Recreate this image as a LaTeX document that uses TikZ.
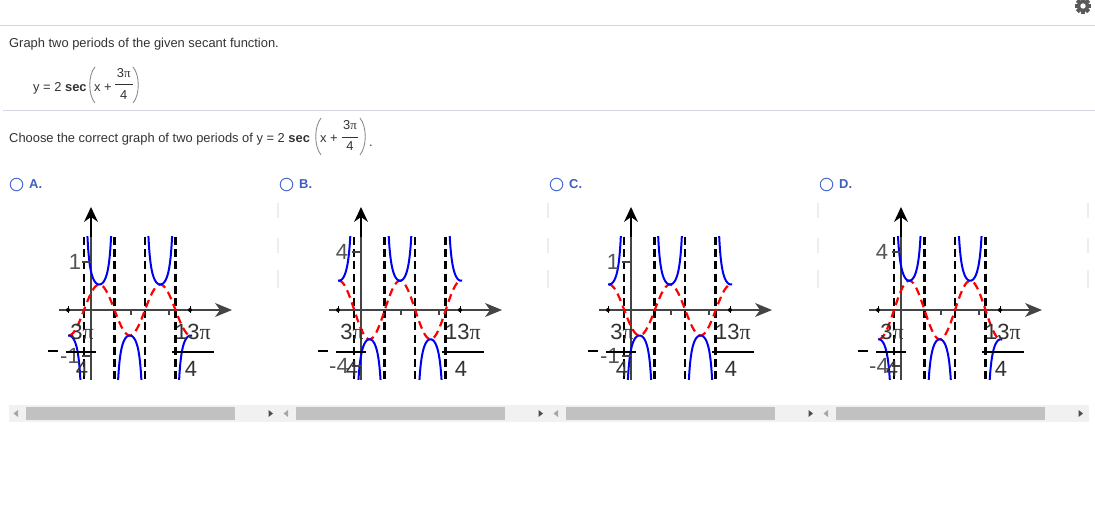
\documentclass[tikz,border=0pt]{standalone}
\usepackage{fontspec}
\setmainfont{Liberation Sans}
\newfontfamily\serifpi{Liberation Serif}
\definecolor{ruleline}{HTML}{D3D6E0}
\definecolor{axisgray}{HTML}{444444}
\definecolor{labelgray}{HTML}{555555}
\definecolor{fracdark}{HTML}{333333}
\definecolor{radioblue}{HTML}{4A6CD4}
\definecolor{optblue}{HTML}{3F5FBF}
\definecolor{curveblue}{HTML}{0000F0}
\definecolor{track}{HTML}{F1F1F1}
\definecolor{thumb}{HTML}{C1C1C1}
\definecolor{faint}{HTML}{EDEDED}
\definecolor{gear}{HTML}{5A5A5A}
\definecolor{txt}{HTML}{333333}
\tikzset{
  x=1pt,y=-1pt,
  body/.style={font=\fontsize{12.9}{15}\selectfont,text=txt,inner sep=0pt,anchor=base west},
  mid/.style={font=\fontsize{12.9}{15}\selectfont,text=txt,inner sep=0pt,anchor=base},
  numlabel/.style={font=\fontsize{22}{24}\selectfont,text=labelgray,inner sep=0pt},
  fraclabel/.style={font=\fontsize{22}{24}\selectfont,text=fracdark,inner sep=0pt},
  asym/.style={black,line width=2.7pt,dash pattern=on 8pt off 4.2pt},
  axisline/.style={axisgray,line width=2pt},
  redcurve/.style={red,line width=2.2pt,dash pattern=on 8pt off 5pt,smooth},
  bluecurve/.style={curveblue,line width=2pt,smooth},
  paren/.style={draw=gray!90,line width=0.9pt},
  optlabel/.style={font=\fontsize{12.9}{15}\selectfont\bfseries,text=optblue,inner sep=0pt,anchor=west},
}
\newcommand{\pipi}{{\serifpi π}}
% #1 axis x, #2 peak x (relative), #3 amplitude
\newcommand{\trigpanel}[3]{%
\begin{scope}[xshift=#1pt]
  \foreach \ax in {-7,23.5,54,84.5} \draw[asym] (\ax,237) -- (\ax,380);
  \draw[black,line width=2pt] (0,215) -- (0,237);
  \fill[black] (0,207) -- (7,222) -- (0,217) -- (-7,222) -- cycle;
  \draw[axisline] (0,237) -- (0,380);
  \draw[axisline] (-32,310) -- (130,310);
  \fill[axisgray] (141,310) -- (124,303) -- (129,310) -- (124,317) -- cycle;
  \foreach \dt in {-23,99} {\fill[black] (\dt,310) circle (2pt); \draw[black,line width=1pt] (\dt,306.5) -- (\dt,313.5);}
  \foreach \tk in {40,78} \draw[axisgray,line width=1.2pt] (\tk,310) -- (\tk,315);
  \begin{scope}
    \clip (-23,237) rectangle (101,380);
    \draw[redcurve] plot[domain=-22:100,samples=80] (\x,{310-#3*cos(5.90164*(\x-(#2)))});
    \foreach \k in {-2,...,3} {
      \pgfmathsetmacro{\cc}{#2+30.5*\k}
      \draw[bluecurve] plot[domain={\cc-14.9}:{\cc+14.9},samples=90] (\x,{310-#3/cos(5.90164*(\x-(#2)))});
    }
  \end{scope}
\end{scope}}
% #1 prefix, #2 axis x, #3 top text, #4 top y, #5 top x, #6 bottom text, #7 bottom y, #8 bottom x
\newcommand{\trigtext}[8]{%
\begin{scope}[xshift=#2pt]
  \draw[axisline] (-9,#4) -- (0,#4);
  \draw[axisline] (-9,#7) -- (0,#7);
  \node[numlabel] (#1top) at (#5,#4) {#3};
  \node[numlabel] (#1bot) at (#8,#7) {#6};
  \draw[black,line width=1.8pt] (-43,351) -- (-33,351);
  \draw[black,line width=1.8pt] (-25,352) -- (5,352);
  \draw[black,line width=1.8pt] (81,352) -- (123,352);
  \node[fraclabel] (#1na) at (-9,332) {3\pipi};
  \node[fraclabel] (#1da) at (-9,369) {4};
  \node[fraclabel] (#1nb) at (102,332) {13\pipi};
  \node[fraclabel] (#1db) at (100,369) {4};
\end{scope}}
% #1 name, #2 x of circle, #3 letter
\newcommand{\optradio}[3]{%
  \node[circle,draw=radioblue,line width=1pt,minimum size=12.5pt,inner sep=0pt] (#1) at (#2,184.5) {};
  \node[optlabel] (#1t) at (#2+12.5,184.5) {#3.};}
% #1 x offset of the panel
\newcommand{\scrollset}[1]{%
\begin{scope}[xshift=#1pt]
  \fill[track] (9,405) rectangle (278.5,422);
  \fill[thumb] (26,407) rectangle (235,420);
  \fill[gray!70] (13.5,413.5) -- (18,410) -- (18,417) -- cycle;
  \fill[black!70] (273,413.5) -- (268.5,410) -- (268.5,417) -- cycle;
  \foreach \yy/\ye in {203/218,238/253,270/288} \draw[faint,line width=1.6pt] (278,\yy) -- (278,\ye);
\end{scope}}
\begin{document}
\begin{tikzpicture}
\useasboundingbox (0,0) rectangle (1095,518);
\fill[white] (0,0) rectangle (1095,518);
% gear
\begin{scope}
\clip (1060,0) rectangle (1095,20);
\fill[gear] (1083,6) circle (6pt);
\foreach \ang in {0,45,...,315} \fill[gear,rotate around={\ang:(1083,6)}] (1081,-2) rectangle (1085,2);
\fill[white] (1083,6) circle (2.7pt);
\end{scope}
% rules
\draw[ruleline,line width=1pt] (0,25.5) -- (1095,25.5);
\draw[ruleline,line width=1pt] (3,110.5) -- (1095,110.5);
% statement
\node[body] (q1) at (9,48) {Graph two periods of the given secant function.};
\node[body] (f1) at (33,91.5) {y = 2 \textbf{sec}};
\node[body] (f1x) at (94,91.5) {x +};
\draw[paren] (95,67) .. controls (88,75) and (88,95) .. (95,103);
\draw[paren] (133,67) .. controls (140,75) and (140,95) .. (133,103);
\draw[fracdark,line width=0.8pt] (115,84.5) -- (133,84.5);
\node[mid] (f1n) at (123.7,78) {3\pipi};
\node[mid] (f1d) at (123.7,99.3) {4};
\node[body] (q2) at (9,143) {Choose the correct graph of two periods of y = 2 \textbf{sec}};
\node[body] (f2x) at (320,143) {x +};
\draw[paren] (321,118) .. controls (314,127) and (314,146) .. (321,155);
\draw[paren] (360,118) .. controls (367,127) and (367,146) .. (360,155);
\draw[fracdark,line width=0.8pt] (342,137) -- (358,137);
\node[mid] (f2n) at (350,129.5) {3\pipi};
\node[mid] (f2d) at (350,151) {4};
\node[body] (f2p) at (369,147) {.};
% options
\optradio{oa}{16.5}{A}
\optradio{ob}{286.5}{B}
\optradio{oc}{556.5}{C}
\optradio{od}{826.5}{D}
% graphs
\trigpanel{91}{8.25}{25.5}
\trigpanel{361}{39}{29.3}
\trigpanel{631}{39}{25.5}
\trigpanel{901}{8.25}{29.3}
\trigtext{ga}{91}{1}{262}{-16}{-1}{356}{-21}
\trigtext{gb}{361}{4}{252}{-19}{-4}{366}{-22}
\trigtext{gc}{631}{1}{262}{-18}{-1}{356}{-21}
\trigtext{gd}{901}{4}{252}{-19}{-4}{366}{-22}
% scrollbars
\scrollset{0}\scrollset{270}\scrollset{540}\scrollset{810}
\end{tikzpicture}
\end{document}
